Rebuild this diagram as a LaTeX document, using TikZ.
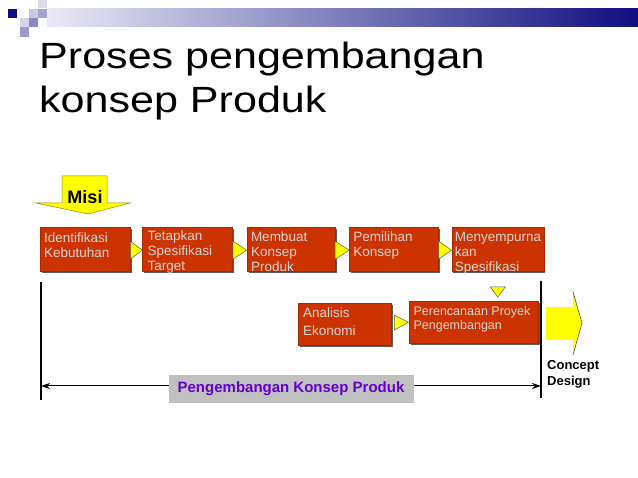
\documentclass[tikz,border=0pt]{standalone}
\usepackage{fontspec}
\setmainfont{Liberation Sans}
\newfontfamily\titlefont[FakeStretch=1.18]{Liberation Sans}
\usetikzlibrary{arrows.meta,positioning,calc,shadows}
\definecolor{boxred}{RGB}{204,51,0}
\definecolor{hdrnavy}{RGB}{14,14,128}
\definecolor{hdrlav}{RGB}{234,234,246}
\definecolor{lblpurple}{RGB}{102,0,204}
\definecolor{lblgray}{RGB}{192,192,192}
\definecolor{yel}{RGB}{255,255,0}

\begin{document}
\begin{tikzpicture}[x=1pt, y=1pt, >={Stealth[length=9pt,width=6pt]},
  procbox/.style={fill=boxred, draw=boxred!80!black, line width=0.4pt, inner sep=0pt,
    minimum height=44pt, anchor=north west,
    drop shadow={shadow xshift=1.5pt, shadow yshift=-1.5pt, fill=black!70, opacity=0.9}},
  boxtxt/.style={anchor=north west, align=left, inner sep=0pt, text=white!84!black,
    font=\fontsize{13.5}{15}\selectfont},
  ytri/.style={fill=yel, draw=black!65, line width=0.5pt, line join=miter}]
  \useasboundingbox (0,0) rectangle (638,-478);
  \fill[white] (0,0) rectangle (638,-478);
  % header
  \shade[left color=hdrlav, right color=hdrnavy] (47,-9) rectangle (638,-27);
  \fill[hdrnavy] (8,-9) rectangle (17,-18);
  \fill[hdrnavy!15] (38,0) rectangle (47,-8);
  \fill[hdrnavy!22] (29,-9) rectangle (38,-18);
  \fill[hdrnavy!38] (38,-9) rectangle (47,-18);
  \fill[hdrnavy!18] (20,-18) rectangle (29,-27);
  \fill[hdrnavy!48] (29,-18) rectangle (38,-27);
  \fill[hdrnavy!42] (20,-27) rectangle (29,-37);
  \node[anchor=base west, inner sep=0pt, font=\titlefont\fontsize{36.5}{44}\selectfont] (t1) at (39,-69) {Proses pengembangan};
  \node[anchor=base west, inner sep=0pt, font=\titlefont\fontsize{36.5}{44}\selectfont] (t2) at (39,-113) {konsep Produk};

  % misi arrow
  \filldraw[fill=yel, draw=yel!55!black, line width=0.5pt, line join=miter]
    (62,-176) -- (107,-176) -- (107,-203) -- (130,-203) -- (88,-214) -- (36,-203) -- (62,-203) -- cycle;
  \node[anchor=base, inner sep=0pt, font=\bfseries\fontsize{18}{20}\selectfont] (misi) at (85,-204) {Misi};

  % first row
  \node[procbox, minimum width=90pt] (a) at (40,-227) {};
  \node[procbox, minimum width=90pt, right=12pt of a] (b) {};
  \node[procbox, minimum width=88pt, right=14pt of b] (c) {};
  \node[procbox, minimum width=89pt, right=14pt of c] (d) {};
  \node[procbox, minimum width=92pt, right=13pt of d] (e) {};
  \node[boxtxt] (at) at ($(a.north west)+(4,-6)$) {Identifikasi\\Kebutuhan};
  \node[boxtxt] (bt) at ($(b.north west)+(5,-3.5)$) {Tetapkan\\Spesifikasi\\Target};
  \node[boxtxt] (ct) at ($(c.north west)+(4,-5)$) {Membuat\\Konsep\\Produk};
  \node[boxtxt] (dt) at ($(d.north west)+(4,-5)$) {Pemilihan\\Konsep};
  \node[boxtxt] (et) at ($(e.north west)+(3,-5)$) {Menyempurna\\kan\\Spesifikasi};
  \foreach \p/\q in {a/b,b/c,c/d,d/e}
    \draw[ytri] ($(\p.east)+(0,8)$) -- ($(\p.east)+(0,-10)$) -- ($(\q.west)+(0,-1)$) -- cycle;

  % second row
  \node[procbox, minimum width=93pt, minimum height=42pt] (f) at (298,-303) {};
  \node[procbox, minimum width=129pt, minimum height=42pt, right=18pt of f, yshift=2pt] (g) {};
  \node[boxtxt, font=\fontsize{13.5}{18}\selectfont] (ft) at ($(f.north west)+(5,-5)$) {Analisis\\Ekonomi};
  \node[boxtxt, font=\fontsize{12.5}{14}\selectfont] (gt) at ($(g.north west)+(4,-5)$) {Perencanaan Proyek\\Pengembangan};
  \draw[ytri] ($(f.east)+(3,9)$) -- ($(f.east)+(3,-6)$) -- ($(g.west)+(-1,0)$) -- cycle;
  \draw[ytri] ($(e.south |- g.north)+(-7.5,14)$) -- ($(e.south |- g.north)+(7.5,14)$) -- ($(e.south |- g.north)+(0,4)$) -- cycle;

  % span
  \coordinate (lt) at (41,-282);
  \coordinate (lb) at (41,-400);
  \coordinate (rt) at (541,-281);
  \coordinate (rb) at (541,-398);
  \draw[line width=1.1pt] (lt) -- (lb);
  \draw[line width=1.1pt] (rt) -- (rb);
  \coordinate (la) at (41,-386);
  \coordinate (ra) at (541,-386);
  \draw[<->, line width=1pt] (la) -- node[fill=lblgray, minimum width=245pt, minimum height=28pt, yshift=-3pt,
    text=lblpurple, font=\bfseries\fontsize{15}{17}\selectfont] (span) {Pengembangan Konsep Produk} (ra);

  % concept design
  \fill[yel] (546,-307) -- (573,-307) -- (573,-292) -- (582,-323) -- (573,-355) -- (573,-340) -- (546,-340) -- cycle;
  \draw[black!70, line width=0.6pt] (573,-292) -- (582,-323) -- (573,-355);
  \node[anchor=north west, align=left, inner sep=0pt, font=\bfseries\fontsize{13}{16}\selectfont] (cd) at (547,-360) {Concept\\Design};
\end{tikzpicture}
\end{document}
